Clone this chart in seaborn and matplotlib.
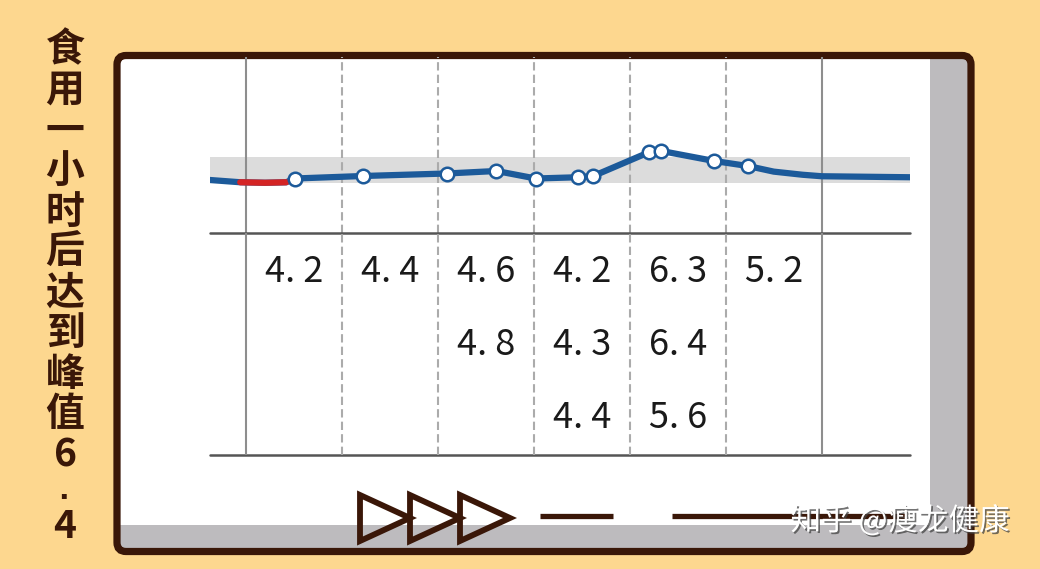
import numpy as np
import pandas as pd
import matplotlib
matplotlib.use("Agg")
import matplotlib.pyplot as plt
import seaborn as sns
from matplotlib.patches import FancyBboxPatch, Rectangle, Polygon
import matplotlib.patheffects as pe

# ---------------- data ----------------
title_chars = list("食用一小时后达到峰值") + ["6", ".", "4"]
reading_values = [4.2, 4.4, 4.6, 4.8, 4.2, 4.3, 4.4, 6.3, 6.4, 5.6, 5.2]
reading_hours = [0.51, 1.22, 2.09, 2.61, 3.02, 3.46, 3.62, 4.20, 4.33, 4.88, 5.23]
reading_columns = [0, 1, 2, 2, 3, 3, 3, 4, 4, 4, 5]
lead_hours = [-0.375, -0.06, 0.2, 0.42]
lead_values = [4.08, 3.9, 3.86, 3.9]
red_hours = [-0.06, 0.2, 0.42]
red_values = [3.9, 3.86, 3.9]
tail_hours = [5.5, 5.8, 6.0, 6.92]
tail_values = [4.75, 4.5, 4.38, 4.3]
target_range = [3.85, 5.92]
column_edges = [0, 1, 2, 3, 4, 5, 6]
solid_edges = [0, 6]
watermark = "知乎 @瘦龙健康"

# ---------------- style ----------------
sns.set_theme(style="white")
plt.rcParams["font.family"] = ["Noto Sans CJK SC", "DejaVu Sans"]

W, H = 1040, 569
BG = "#FDD78F"
BROWN = "#3A1708"
GRAY = "#BDBBBE"
BLUE = "#1C5A9A"

fig = plt.figure(figsize=(W / 100, H / 100), dpi=100)
fig.patch.set_facecolor(BG)


def rect(x0, y0, x1, y1):
    return [x0 / W, 1 - y1 / H, (x1 - x0) / W, (y1 - y0) / H]


bg = fig.add_axes([0, 0, 1, 1])
bg.set_xlim(0, W)
bg.set_ylim(H, 0)
bg.axis("off")
bg.set_zorder(0)

# card
bg.add_patch(FancyBboxPatch((117, 55.5), 854, 496, boxstyle="round,pad=0,rounding_size=9",
                            fc=GRAY, ec="none", zorder=1))
bg.add_patch(Rectangle((120, 58), 810, 467, fc="white", ec="none", zorder=2))
bg.add_patch(FancyBboxPatch((117, 55.5), 854, 496, boxstyle="round,pad=0,rounding_size=9",
                            fc="none", ec=BROWN, lw=5.2, zorder=3))

# vertical title
ys = [50 + 40.5 * i for i in range(11)] + [0, 527]
for i, ch in enumerate(title_chars):
    if ch == ".":
        bg.text(63, 498, "▪", fontsize=7, color=BROWN, ha="center", va="baseline",
                family=["DejaVu Sans"], zorder=5)
        continue
    bg.text(65, ys[i], ch, fontsize=28, fontweight="heavy", color=BROWN,
            ha="center", va="center", zorder=5)

# bottom decoration: triangles and dashes
for x0 in (360, 410, 460):
    bg.add_patch(Polygon([[x0, 495], [x0 + 50, 518], [x0, 541]], closed=True,
                         fc="none", ec=BROWN, lw=4.2, joinstyle="miter", zorder=6))
bg.plot([540, 613], [516, 516], color=BROWN, lw=3.8, solid_capstyle="butt", zorder=6)
bg.plot([672, 905], [516, 516], color=BROWN, lw=3.8, solid_capstyle="butt", zorder=6)

bg.text(900, 521, watermark, fontsize=22, color="white", ha="center", va="center", zorder=10,
        path_effects=[pe.withSimplePatchShadow(offset=(1.2, -1.2), shadow_rgbFace="#444444", alpha=0.75)])

# ---------------- chart axes ----------------
ax = fig.add_axes(rect(210, 57, 910, 233))
ax.set_zorder(4)
ax.patch.set_alpha(0)
ax.set_xlim(-0.375, 6.92)
ax.set_ylim(-0.16, 13.92)
ax.axhspan(target_range[0], target_range[1], color="#DCDCDC", lw=0, zorder=1)

for e in column_edges:
    if e in solid_edges:
        ax.axvline(e, color="#8E8E8E", lw=1.5, zorder=2)
    else:
        ax.axvline(e, color="#ABABAB", lw=1.5, ls=(0, (4, 2)), zorder=2)

trace = pd.DataFrame({
    "hour": lead_hours + reading_hours + tail_hours,
    "value": lead_values + reading_values + tail_values,
})
sns.lineplot(data=trace, x="hour", y="value", sort=False, color=BLUE, lw=4.5, ax=ax, zorder=3)
sns.lineplot(x=red_hours, y=red_values, sort=False, color="#D42424", lw=4.5, ax=ax, zorder=4)
sns.scatterplot(x=reading_hours, y=reading_values, s=95, color="white", edgecolor=BLUE,
                linewidth=1.8, ax=ax, zorder=5, clip_on=False)
ax.axis("off")

# ---------------- table axes ----------------
at = fig.add_axes(rect(210, 233, 910, 455))
at.set_zorder(4)
at.patch.set_alpha(0)
at.set_xlim(-0.375, 6.92)
at.set_ylim(183 / 73, -39 / 73)
at.axis("off")
at.axhline(-39 / 73, color="#555555", lw=1.8, clip_on=False)
at.axhline(183 / 73, color="#555555", lw=1.8, clip_on=False)
for e in column_edges:
    if e in solid_edges:
        at.axvline(e, color="#8E8E8E", lw=1.5)
    else:
        at.axvline(e, color="#ABABAB", lw=1.5, ls=(0, (4, 2)))

row_counter = {}
for v, c in zip(reading_values, reading_columns):
    r = row_counter.get(c, 0)
    row_counter[c] = r + 1
    s = f"{v:.1f}".replace(".", ". ")
    at.text(c + 0.5, r, s, fontsize=26, color="#1A1A1A", ha="center", va="center")

fig.savefig("out.png", dpi=100, facecolor=BG)
